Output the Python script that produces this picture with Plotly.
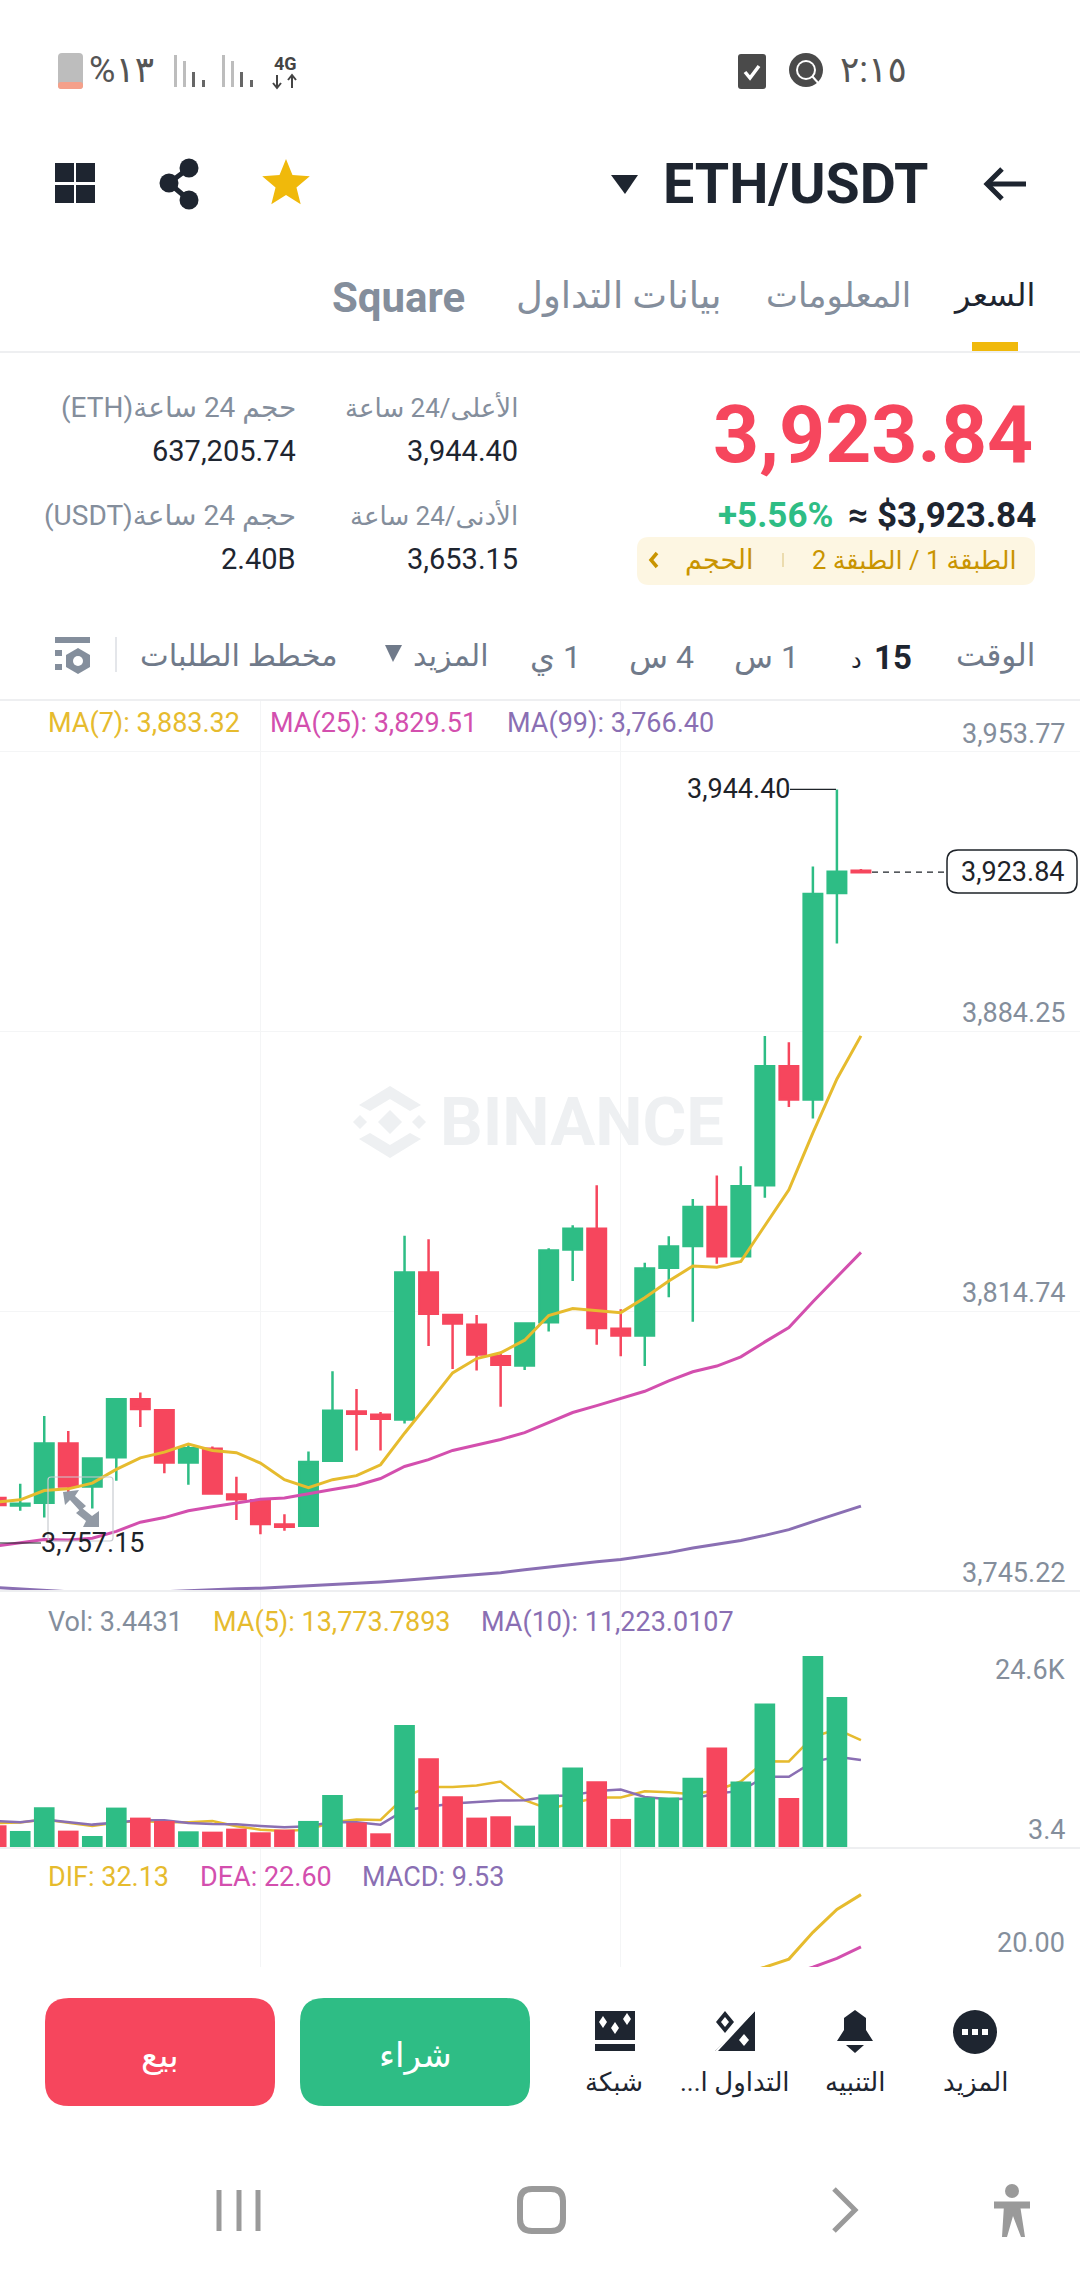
import math
import plotly.graph_objects as go

GREEN = "#2ebd85"
RED = "#f6465d"
GOLD = "#e6bb2e"
PINK = "#d34fae"
PURPLE = "#8a6fb3"
GRAY = "#848e9c"
DARK = "#1e2530"
GRID = "#f4f5f6"
FONT = "Roboto, DejaVu Sans, sans-serif"

# candles
opens = [3768.31, 3766.46, 3767.17, 3781.87, 3771.17, 3778.44, 3792.85, 3790.14, 3777.16, 3780.58, 3769.17, 3767.74, 3761.75,
         3761.46, 3777.59, 3789.85, 3789.00, 3787.86, 3824.38, 3813.82, 3811.40, 3803.55, 3801.27, 3811.97, 3830.08, 3835.22,
         3810.40, 3808.69, 3825.52, 3830.94, 3840.64, 3828.37, 3846.06, 3875.59, 3867.32, 3918.68, 3924.20]
closes = [3766.60, 3766.89, 3781.87, 3771.17, 3778.16, 3792.85, 3790.42, 3777.16, 3780.72, 3769.45, 3768.02, 3761.89, 3761.18,
          3777.30, 3790.00, 3789.28, 3788.00, 3824.38, 3814.11, 3811.68, 3803.98, 3801.41, 3811.68, 3829.80, 3835.22, 3810.54,
          3808.69, 3825.38, 3830.80, 3840.64, 3828.37, 3845.78, 3875.59, 3867.32, 3918.39, 3923.95, 3923.84]
highs = [3768.60, 3771.88, 3788.71, 3785.00, 3778.16, 3792.85, 3794.56, 3790.14, 3781.58, 3781.15, 3773.59, 3768.31, 3764.32,
         3779.87, 3799.84, 3795.42, 3789.71, 3833.51, 3832.65, 3814.11, 3813.82, 3804.26, 3811.68, 3830.37, 3836.08, 3846.06,
         3815.25, 3826.80, 3833.37, 3842.64, 3848.49, 3850.77, 3883.15, 3881.58, 3925.24, 3944.40, 3924.60]
lows = [3766.31, 3765.17, 3763.46, 3769.74, 3765.74, 3772.59, 3786.00, 3774.45, 3771.59, 3769.45, 3762.89, 3759.33, 3760.18,
        3761.46, 3777.59, 3780.15, 3780.15, 3786.86, 3806.12, 3800.41, 3799.98, 3791.00, 3800.13, 3809.68, 3822.24, 3806.40,
        3803.55, 3801.12, 3818.24, 3812.11, 3826.52, 3828.37, 3842.92, 3865.46, 3862.61, 3906.12, 3923.70]
# price moving averages
ma7 = [3767.31, 3767.88, 3770.17, 3770.60, 3772.02, 3775.45, 3778.30, 3779.73, 3781.72, 3780.15, 3779.58, 3777.01, 3772.88,
       3770.88, 3772.88, 3773.88, 3776.59, 3784.43, 3791.85, 3799.41, 3802.98, 3804.41, 3807.54, 3813.68, 3815.39, 3814.96,
       3814.39, 3818.10, 3822.24, 3825.95, 3825.66, 3827.09, 3836.08, 3844.92, 3859.04, 3872.45, 3883.15]
ma25 = [3756.40, 3757.18, 3758.04, 3757.90, 3758.33, 3760.04, 3762.32, 3763.46, 3765.17, 3766.17, 3767.17, 3768.02, 3768.31,
        3769.45, 3770.45, 3771.45, 3773.16, 3776.16, 3777.87, 3780.15, 3781.58, 3782.87, 3784.58, 3787.14, 3789.57, 3791.28,
        3793.14, 3794.85, 3797.42, 3799.70, 3801.12, 3803.41, 3807.12, 3810.68, 3817.10, 3823.24, 3829.37]
ma99 = [3746.06, 3745.77, 3745.49, 3745.06, 3745.06, 3744.92, 3744.92, 3745.06, 3745.34, 3745.63, 3745.77, 3745.91, 3746.20,
        3746.49, 3746.77, 3747.20, 3747.48, 3747.91, 3748.34, 3748.77, 3749.20, 3749.77, 3750.48, 3751.19, 3751.91, 3752.48,
        3753.05, 3753.90, 3754.76, 3755.90, 3756.76, 3757.76, 3759.04, 3760.47, 3762.46, 3764.32, 3766.32]
# volume
volumes = [2900, 2175, 5202, 2217, 1535, 5159, 3880, 3454, 2132, 2089, 2473, 2004, 2345, 3454, 6780, 3241, 1876, 15692, 11470,
           6609, 3880, 4051, 2857, 6822, 10276, 8528, 3710, 6439, 6439, 8954, 12835, 8485, 18463, 6396, 24518, 19273, 3.44]
vol_ma5 = [3198, 3241, 3624, 3241, 2814, 3241, 3454, 3283, 3283, 3454, 2772, 2345, 2175, 2345, 3283, 3624, 3582, 6524, 7803,
           7803, 7974, 8485, 6098, 4989, 5671, 6439, 6439, 7249, 7121, 6865, 7377, 8485, 11086, 11044, 14199, 15137, 13773]
vol_ma10 = [3454, 3283, 3624, 3326, 2985, 3241, 3539, 3539, 3198, 3070, 3027, 2814, 2644, 2772, 3326, 3283, 2985, 4818, 5245,
            5671, 5884, 6055, 6098, 6609, 6737, 7291, 7462, 6524, 6225, 6311, 6950, 7291, 9082, 9082, 11001, 11641, 11223]
# macd, only the end of it is visible
macd_x = [31, 32, 33, 34, 35, 36]
dif = [17.6, 18.9, 20.37, 25.26, 29.42, 32.13]
dea = [15.6, 16.4, 17.5, 18.9, 20.5, 22.60]

price_ticks = [3953.77, 3884.25, 3814.74, 3745.22]
price_labels = ["3,953.77", "3,884.25", "3,814.74", "3,745.22"]

x = list(range(len(closes)))
vol_colors = [GREEN if c >= o else RED for o, c in zip(opens, closes)]
x_range = [0.158, 45.12]
W, H = 1080, 2280


def dom(top, bottom):
    return [1 - bottom / H, 1 - top / H]


def rtl(s):
    return "\u202b" + s + "\u202c"


shapes = []
notes = []


def txt(px, py, s, size, color, anchor="center", bold=False, yanchor="middle", yref="y4", yshift=0):
    if bold:
        s = "<b>" + s + "</b>"
    notes.append(dict(x=px, y=py, xref="x4", yref=yref, text=s, showarrow=False, xanchor=anchor, yanchor=yanchor, yshift=yshift,
                      font=dict(family=FONT, size=size, color=color), borderpad=0, borderwidth=0))


def rect(x0, y0, x1, y1, color):
    shapes.append(dict(type="rect", xref="x4", yref="y4", x0=x0, y0=y0, x1=x1, y1=y1, fillcolor=color, line_width=0, layer="above"))


def poly(points, color):
    d = "M" + " L".join(f"{a},{b}" for a, b in points) + " Z"
    shapes.append(dict(type="path", xref="x4", yref="y4", path=d, fillcolor=color, line_width=0, layer="above"))


def stroke(points, color, width):
    d = "M" + " L".join(f"{a},{b}" for a, b in points)
    shapes.append(dict(type="path", xref="x4", yref="y4", path=d, line=dict(color=color, width=width), layer="above"))


def circle(cx, cy, r, color):
    shapes.append(dict(type="circle", xref="x4", yref="y4", x0=cx - r, y0=cy - r, x1=cx + r, y1=cy + r, fillcolor=color, line_width=0, layer="above"))


def rrect(x0, y0, x1, y1, r, fill=None, line=None, width=0):
    d = (f"M{x0+r},{y0} L{x1-r},{y0} Q{x1},{y0} {x1},{y0+r} L{x1},{y1-r} Q{x1},{y1} {x1-r},{y1} "
         f"L{x0+r},{y1} Q{x0},{y1} {x0},{y1-r} L{x0},{y0+r} Q{x0},{y0} {x0+r},{y0} Z")
    shapes.append(dict(type="path", xref="x4", yref="y4", path=d, fillcolor=fill or "rgba(0,0,0,0)",
                       line=dict(color=line or "rgba(0,0,0,0)", width=width), layer="above"))


fig = go.Figure()

# main panel
fig.add_trace(go.Candlestick(x=x, open=opens, high=highs, low=lows, close=closes, xaxis="x", yaxis="y", whiskerwidth=0,
                             increasing=dict(line=dict(color=GREEN, width=2.5), fillcolor=GREEN),
                             decreasing=dict(line=dict(color=RED, width=2.5), fillcolor=RED), showlegend=False))
for vals, col in [(ma99, PURPLE), (ma25, PINK), (ma7, GOLD)]:
    fig.add_trace(go.Scatter(x=x, y=vals, mode="lines", line=dict(color=col, width=3), xaxis="x", yaxis="y", showlegend=False))

# volume panel, lines go behind the bars
for vals, col in [(vol_ma5, GOLD), (vol_ma10, PURPLE)]:
    fig.add_trace(go.Scatter(x=x, y=vals, mode="lines", line=dict(color=col, width=2.5), xaxis="x2", yaxis="y2", showlegend=False, zorder=0))
fig.add_trace(go.Bar(x=x, y=volumes, marker=dict(color=vol_colors, line_width=0), width=0.86, xaxis="x2", yaxis="y2", showlegend=False, zorder=1))

# macd panel
fig.add_trace(go.Scatter(x=macd_x, y=dif, mode="lines", line=dict(color=GOLD, width=3), xaxis="x3", yaxis="y3", showlegend=False))
fig.add_trace(go.Scatter(x=macd_x, y=dea, mode="lines", line=dict(color=PINK, width=3), xaxis="x3", yaxis="y3", showlegend=False))

# pixel axes for all the app chrome around the chart
fig.add_trace(go.Scatter(x=[0], y=[0], mode="markers", marker=dict(opacity=0), xaxis="x4", yaxis="y4", showlegend=False, hoverinfo="skip"))

# separators
for yy in [352, 700, 1591, 1848]:
    rect(0, yy - 1, W, yy + 1, "#eeeff1")

# status bar
rrect(58, 53, 83, 89, 4, fill="#bdbdbd")
rrect(58, 82, 83, 89, 3, fill="#f5a08a")
txt(89, 70, "%\u0661\u0663", 36, "#555555", "left")
for x0 in [174, 222]:
    for dx, top, col in [(0, 55, "#bdbdbd"), (9, 61, "#bdbdbd"), (18, 72, "#666666"), (28, 80, "#666666")]:
        rect(x0 + dx, top, x0 + dx + 3, 87, col)
txt(285, 63, "<b>4G</b>", 18, "#444444")
stroke([(277, 75), (277, 88)], "#444444", 2)
stroke([(273, 83), (277, 88), (281, 83)], "#444444", 2)
stroke([(292, 75), (292, 88)], "#444444", 2)
stroke([(288, 80), (292, 75), (296, 80)], "#444444", 2)
rrect(738, 54, 766, 89, 3, fill="#4a4a4a")
stroke([(745, 72), (750, 78), (759, 66)], "white", 3.5)
circle(806, 70, 17, "#4a4a4a")
circle(806, 70, 10, "white")
circle(806, 70, 8, "#4a4a4a")
stroke([(812, 76), (820, 85)], "white", 2)
txt(873, 70, "\u0662:\u0661\u0665", 36, "#555555")

# header
for x0, y0, x1, y1 in [(55, 163, 74, 182), (76, 163, 95, 182), (55, 185, 74, 203), (76, 185, 95, 203)]:
    rect(x0, y0, x1, y1, DARK)
stroke([(189, 168), (169, 183), (189, 200)], DARK, 5)
for cy, cx in [(168, 189), (183, 169), (200, 189)]:
    circle(cx, cy, 9.5, DARK)
poly([(286 + (25 if k % 2 == 0 else 11) * math.sin(k * math.pi / 5), 184 - (25 if k % 2 == 0 else 11) * math.cos(k * math.pi / 5)) for k in range(10)], "#f0b90b")
poly([(611, 175), (638, 175), (625, 194)], DARK)
txt(663, 184, "ETH/USDT", 55.5, DARK, "left", bold=True)
stroke([(1026, 184), (988, 184)], DARK, 5)
stroke([(1002, 169), (987, 184), (1002, 199)], DARK, 5)

# tabs
txt(1035, 295, "السعر", 32, DARK, "right")
txt(911, 295, "المعلومات", 34, GRAY, "right")
txt(722, 295, "بيانات التداول", 37, GRAY, "right")
txt(332, 297, "Square", 42, GRAY, "left", bold=True)
rect(972, 342, 1018, 351, "#f0b90b")

# price block
txt(1033, 434, "3,923.84", 80.5, RED, "right", bold=True)
txt(1036, 515, "≈ $3,923.84", 35, DARK, "right", bold=True)
txt(718, 515, "+5.56%", 35, GREEN, "left", bold=True)
rrect(637, 537, 1035, 585, 12, fill="#fdf6e2")
txt(1017, 560, rtl("الطبقة 1 / الطبقة 2"), 25.5, "#c99400", "right")
rect(782, 553, 784, 567, "#ecdcae")
txt(754, 560, "الحجم", 27, "#c99400", "right")
stroke([(657, 553), (651, 560), (657, 567)], "#c99400", 3.5)

for px, lab_size, rows in [(518, 26, [(rtl("الأعلى/24 ساعة"), "3,944.40"), (rtl("الأدنى/24 ساعة"), "3,653.15")]),
                           (296, 28, [(rtl("حجم 24 ساعة(ETH)"), "637,205.74"), (rtl("حجم 24 ساعة(USDT)"), "2.40B")])]:
    for (lab, val), (y_lab, y_val) in zip(rows, [(407, 451), (515, 559)]):
        txt(px, y_lab, lab, lab_size, GRAY, "right")
        txt(px, y_val, val, 29, DARK, "right")

# time frames
TF = "#707a8a"
txt(1035, 655, "الوقت", 31, TF, "right")
txt(912, 657, "15", 33, DARK, "right", bold=True)
txt(862, 660, "د", 24, DARK, "right")
txt(799, 657, rtl("1 س"), 32, TF, "right")
txt(694, 657, rtl("4 س"), 32, TF, "right")
txt(581, 657, rtl("1 ي"), 32, TF, "right")
txt(488, 655, "المزيد", 30, TF, "right")
poly([(385, 645), (402, 645), (393, 662)], TF)
txt(338, 655, "مخطط الطلبات", 30.5, TF, "right")
rect(115, 637, 117, 672, "#e4e6ea")
rect(55, 637, 90, 643, GRAY)
rect(55, 650, 62, 656, GRAY)
rect(55, 664, 62, 670, GRAY)
poly([(78, 648), (90, 655), (90, 667), (78, 674), (66, 667), (66, 655)], GRAY)
circle(78, 661, 5, "white")

# chart legends
txt(48, 723, "MA(7): 3,883.32", 27, GOLD, "left")
txt(270, 723, "MA(25): 3,829.51", 27, PINK, "left")
txt(507, 723, "MA(99): 3,766.40", 27, PURPLE, "left")
txt(48, 1622, "Vol: 3.4431", 27, GRAY, "left")
txt(213, 1622, "MA(5): 13,773.7893", 27, GOLD, "left")
txt(481, 1622, "MA(10): 11,223.0107", 27, PURPLE, "left")
txt(48, 1877, "DIF: 32.13", 27, GOLD, "left")
txt(200, 1877, "DEA: 22.60", 27, PINK, "left")
txt(362, 1877, "MACD: 9.53", 27, PURPLE, "left")

# axis labels sit above their grid lines
for val, lab in zip(price_ticks, price_labels):
    txt(1065, val, lab, 27, GRAY, "right", yanchor="bottom", yref="y", yshift=2)
txt(1065, 1670, "24.6K", 27, GRAY, "right")
txt(1065, 1830, "3.4", 27, GRAY, "right")
txt(1065, 1943, "20.00", 27, GRAY, "right")

# BINANCE watermark
WM = "#eef0f2"
for cx, r in [(360, 7), (419, 7), (390, 12)]:
    poly([(cx - r, 1122), (cx, 1122 - r), (cx + r, 1122), (cx, 1122 + r)], WM)
poly([(390, 1086), (421, 1105), (410, 1111), (390, 1099), (370, 1111), (359, 1105)], WM)
poly([(390, 1158), (421, 1139), (410, 1133), (390, 1145), (370, 1133), (359, 1139)], WM)
txt(440, 1122, "BINANCE", 67, WM, "left", bold=True)

# high, low and last price markers
hi_price = highs[35]
last_price = closes[36]
lo_price = 3757.15
shapes.append(dict(type="line", xref="x4", yref="y", x0=790, x1=836, y0=hi_price, y1=hi_price, line=dict(color="#1e2329", width=1.2), layer="above"))
txt(790, hi_price, "3,944.40", 27, "#1e2329", "right", yref="y")
shapes.append(dict(type="line", xref="x4", yref="y", x0=872, x1=947, y0=last_price, y1=last_price, line=dict(color="#1e2329", width=1.2, dash="6px,5px"), layer="above"))
rrect(947, 850, 1077, 893, 11, fill="white", line="#1e2329", width=1.5)
txt(1012, 872, "3,923.84", 27, "#1e2329")
rrect(48, 1477, 113, 1541, 3, line="#c9ccd1", width=1.2)
poly([(63, 1492), (79, 1490), (75, 1496), (86, 1506), (80, 1511), (70, 1500), (65, 1505)], "#929aa5")
poly([(99, 1527), (83, 1527), (86, 1521), (76, 1513), (82, 1508), (92, 1516), (99, 1511)], "#929aa5")
shapes.append(dict(type="line", xref="x4", yref="y", x0=0, x1=41, y0=lo_price, y1=lo_price, line=dict(color="#1e2329", width=1.2), layer="above"))
txt(41, lo_price, "3,757.15", 27, "#1e2329", "left", yref="y")

# bottom actions
rrect(45, 1998, 275, 2106, 24, fill=RED)
rrect(300, 1998, 530, 2106, 24, fill=GREEN)
txt(160, 2055, "بيع", 34, "white")
txt(415, 2055, "شراء", 34, "white")

rect(595, 2011, 635, 2040, DARK)
rect(595, 2044, 635, 2051, DARK)
for cx, cy in [(603, 2022), (615, 2028), (627, 2019)]:
    poly([(cx - 4, cy), (cx, cy - 6), (cx + 4, cy), (cx, cy + 6)], "white")
poly([(715, 2051), (755, 2011), (755, 2051)], DARK)
poly([(715, 2051), (752, 2011), (755, 2011), (718, 2051)], "white")
poly([(716, 2022), (725, 2011), (734, 2022), (725, 2033)], DARK)
poly([(721, 2022), (725, 2017), (729, 2022), (725, 2027)], "white")
poly([(739, 2040), (744, 2034), (749, 2040), (744, 2046)], "white")
poly([(837, 2041), (844, 2030), (844, 2018), (855, 2010), (866, 2018), (866, 2030), (873, 2041)], DARK)
poly([(846, 2045), (864, 2045), (855, 2053)], DARK)
circle(975, 2032, 22, DARK)
for cx in [965, 975, 985]:
    rect(cx - 3, 2029, cx + 3, 2035, "white")
txt(614, 2082, "شبكة", 26, DARK)
txt(735, 2082, rtl("التداول ا..."), 26, DARK)
txt(855, 2082, "التنبيه", 26, DARK)
txt(975, 2082, "المزيد", 26, DARK)

# android nav bar
NAV = "#9a9a9a"
for cx in [219, 239, 258]:
    stroke([(cx, 2190), (cx, 2231)], NAV, 5)
rrect(520, 2189, 563, 2231, 12, line=NAV, width=6)
stroke([(834, 2189), (855, 2210), (834, 2231)], NAV, 5)
circle(1012, 2191, 7, NAV)
stroke([(994, 2205), (1030, 2205)], NAV, 7)
poly([(1004, 2205), (1020, 2205), (1025, 2237), (1021, 2237), (1013, 2216), (1007, 2237), (1002, 2237)], NAV)

axis_off = dict(showticklabels=False, ticks="", showline=False, zeroline=False, fixedrange=True)
fig.update_layout(
    width=W, height=H, margin=dict(l=0, r=0, t=0, b=0), paper_bgcolor="white", plot_bgcolor="rgba(0,0,0,0)",
    font=dict(family=FONT), showlegend=False, hovermode=False, boxgap=0.23, boxgroupgap=0, shapes=shapes, annotations=notes,
    xaxis=dict(axis_off, domain=[0, 1], range=x_range, rangeslider=dict(visible=False), tickvals=[11, 26], showgrid=True, gridcolor=GRID, anchor="y"),
    yaxis=dict(axis_off, domain=dom(700, 1591), range=[3745.22, 3966.61], tickvals=price_ticks, showgrid=True, gridcolor=GRID, anchor="x"),
    xaxis2=dict(axis_off, domain=[0, 1], range=x_range, tickvals=[11, 26], showgrid=True, gridcolor=GRID, anchor="y2"),
    yaxis2=dict(axis_off, domain=dom(1591, 1848), range=[0, 32810], showgrid=False, anchor="x2"),
    xaxis3=dict(axis_off, domain=[0, 1], range=x_range, tickvals=[11, 26], showgrid=True, gridcolor=GRID, anchor="y3"),
    yaxis3=dict(axis_off, domain=dom(1848, 1967), range=[18.93, 40.63], tickvals=[20], showgrid=False, anchor="x3"),
    xaxis4=dict(axis_off, domain=[0, 1], range=[0, W], showgrid=False, anchor="y4"),
    yaxis4=dict(axis_off, domain=[0, 1], range=[H, 0], showgrid=False, anchor="x4"),
)
# the page margin would push the phone screen off its edges
fig.write_html("out.html", config={"displayModeBar": False}, post_script="document.body.style.margin='0';")
